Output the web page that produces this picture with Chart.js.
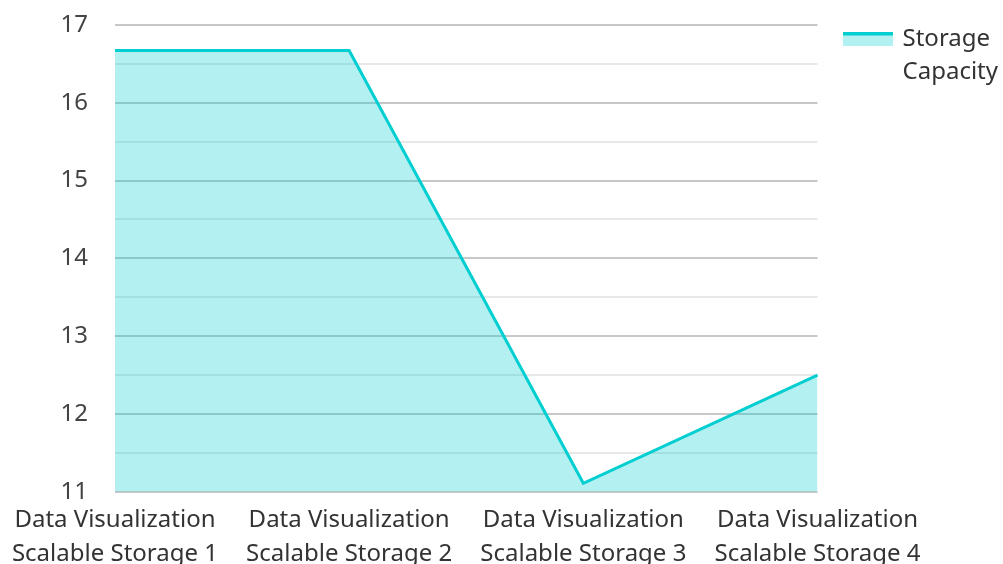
<!DOCTYPE html>
<html>
<head>
<meta charset="utf-8">
<script src="https://cdn.jsdelivr.net/npm/chart.js@4/dist/chart.umd.min.js"></script>
<style>
html,body{margin:0;padding:0;background:#fff;}
#wrap{width:1003px;height:564px;position:relative;}
</style>
</head>
<body>
<div id="wrap"><canvas id="c" width="1003" height="564"></canvas></div>
<script>
const categories = [
  ['Data Visualization', 'Scalable Storage 1'],
  ['Data Visualization', 'Scalable Storage 2'],
  ['Data Visualization', 'Scalable Storage 3'],
  ['Data Visualization', 'Scalable Storage 4']
];
const seriesLabel = ['Storage', 'Capacity'];
const storageCapacity = [16.67, 16.67, 11.11, 12.5];
const yMin = 11, yMax = 17, yStep = 0.5;

const LINE = '#00CED1';
const FILL = 'rgba(0,206,209,0.3)';

// legend swatch: line on top, fill below
const sw = document.createElement('canvas');
sw.width = 50; sw.height = 14;
const sctx = sw.getContext('2d');
sctx.fillStyle = FILL; sctx.fillRect(0, 0, 50, 14);
sctx.fillStyle = LINE; sctx.fillRect(0, 0, 50, 3.5);

Chart.defaults.font.family = '"Noto Sans", "Open Sans", sans-serif';

new Chart(document.getElementById('c'), {
  type: 'line',
  data: {
    labels: categories,
    datasets: [{
      label: seriesLabel,
      data: storageCapacity,
      borderColor: LINE,
      backgroundColor: FILL,
      borderWidth: 3,
      fill: 'origin',
      tension: 0,
      pointRadius: 0,
      pointStyle: sw
    }]
  },
  options: {
    responsive: false,
    animation: false,
    layout: { padding: { top: 0, right: -5, bottom: -11, left: 50 } },
    plugins: {
      tooltip: { enabled: false },
      legend: {
        position: 'right',
        align: 'start',
        labels: {
          usePointStyle: true,
          pointStyleWidth: 46,
          boxHeight: 14,
          color: '#333',
          font: { size: 24, lineHeight: 1.4 },
          padding: 27
        }
      }
    },
    scales: {
      x: {
        offset: false,
        grid: { display: false },
        border: { display: false },
        ticks: { color: '#333', font: { size: 24, lineHeight: 1.4 }, maxRotation: 0, autoSkip: false, padding: 4 }
      },
      y: {
        min: yMin, max: yMax,
        border: { display: false },
        grid: {
          drawTicks: true,
          tickLength: 16.5,
          tickColor: 'rgba(0,0,0,0)',
          lineWidth: 2,
          color: ctx => (ctx.tick && Math.abs(ctx.tick.value % 1) < 1e-9) ? '#c8c8c8' : '#e8e8e8'
        },
        ticks: {
          stepSize: yStep,
          color: '#444',
          font: { size: 24 },
          padding: 10.5,
          callback: v => (Math.abs(v % 1) < 1e-9) ? String(v) : ''
        }
      }
    }
  }
});
</script>
</body>
</html>
